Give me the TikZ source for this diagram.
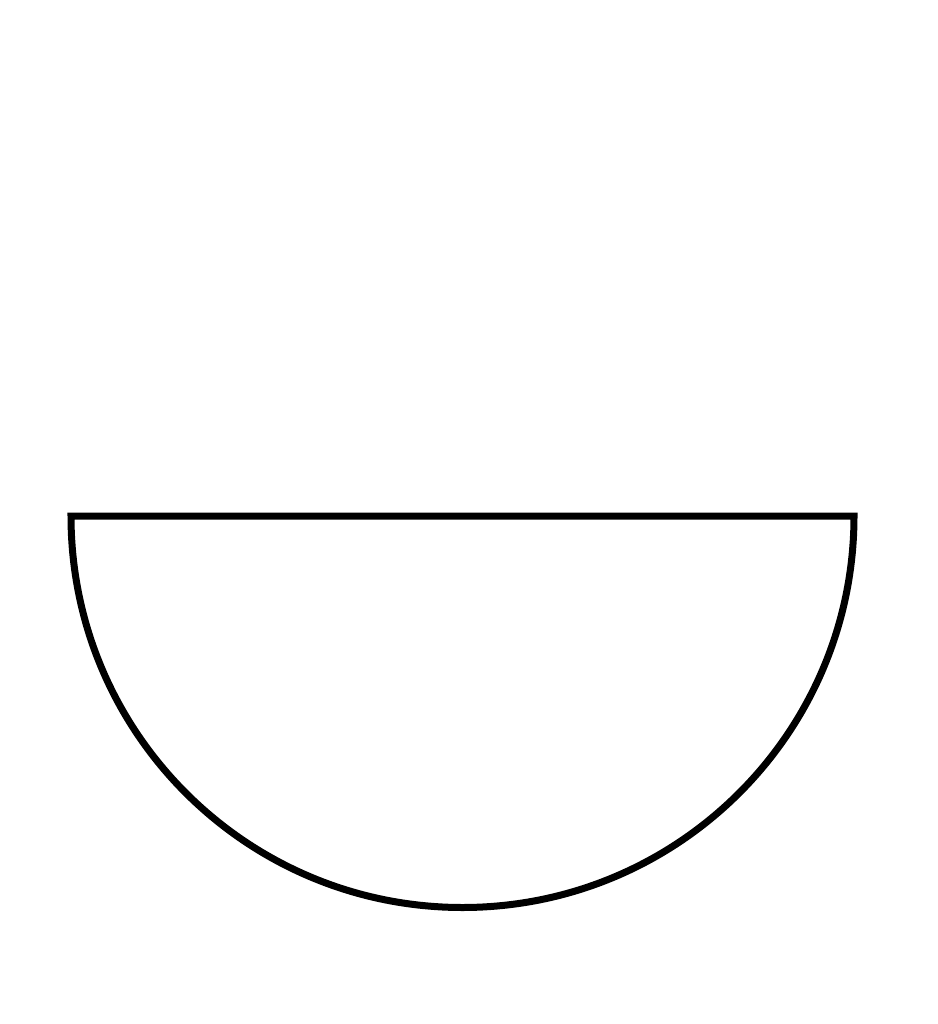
\documentclass[tikz,border=0pt]{standalone}
\begin{document}
\begin{tikzpicture}[x=1pt,y=-1pt,outline/.style={draw=black,line width=7pt,line join=miter}]
\useasboundingbox (0,0) rectangle (937,1024);
\draw[outline] (71,516) -- (854,516) arc[start angle=0,end angle=180,radius=391.5] -- cycle;
\end{tikzpicture}
\end{document}
